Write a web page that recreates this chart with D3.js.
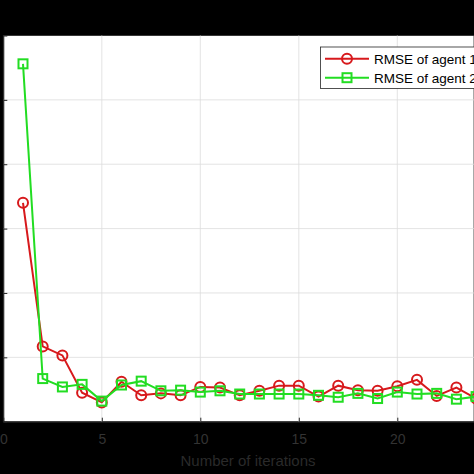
<!DOCTYPE html>
<html><head><meta charset="utf-8">
<script src="https://cdn.jsdelivr.net/npm/d3@7"></script>
<style>body{margin:0;background:#000}svg{display:block}</style>
</head><body>
<svg id="c" width="474" height="474"></svg>
<script>
// values
const iterations = d3.range(1, 25);
const agent1 = [3.40,1.17,1.03,0.45,0.30,0.62,0.41,0.44,0.41,0.54,0.53,0.41,0.48,0.56,0.56,0.39,0.56,0.49,0.48,0.55,0.65,0.40,0.53,0.36];
const agent2 = [5.56,0.67,0.54,0.58,0.32,0.57,0.63,0.48,0.49,0.46,0.48,0.43,0.43,0.43,0.43,0.41,0.38,0.44,0.36,0.46,0.43,0.44,0.35,0.39];
const xTicks = [0, 5, 10, 15, 20, 25];
const yTicks = [0, 1, 2, 3, 4, 5, 6];
const seriesNames = ["RMSE of agent 1", "RMSE of agent 2"];

const svg = d3.select("#c");
const plotLeft = 3.3, plotTop = 35.5, plotBottom = 421.7;
const x = d3.scaleLinear().domain([0, 25]).range([plotLeft, plotLeft + 25 * 19.7]);
const y = d3.scaleLinear().domain([0, 6]).range([plotBottom, plotTop]);

svg.append("rect").attr("x", plotLeft).attr("y", plotTop)
  .attr("width", 474 - plotLeft).attr("height", plotBottom - plotTop)
  .attr("fill", "#fff").attr("stroke", "#262626").attr("stroke-width", 0.8);

// grid
svg.append("g").selectAll("line").data(xTicks.slice(1)).join("line")
  .attr("x1", d => x(d)).attr("x2", d => x(d)).attr("y1", plotTop).attr("y2", plotBottom)
  .attr("stroke", "#dcdcdc").attr("stroke-width", 0.8);
svg.append("g").selectAll("line").data(yTicks.slice(1, -1)).join("line")
  .attr("x1", plotLeft).attr("x2", 474).attr("y1", d => y(d)).attr("y2", d => y(d))
  .attr("stroke", "#dcdcdc").attr("stroke-width", 0.8);

// axes
const xAxis = d3.axisBottom(x).tickValues(xTicks).tickSizeInner(-4).tickSizeOuter(0).tickPadding(12);
const gx = svg.append("g").attr("transform", `translate(0,${plotBottom})`).call(xAxis);
gx.select(".domain").attr("stroke", "#262626");
gx.selectAll(".tick line").attr("stroke", "#262626");
gx.selectAll("text").attr("fill", "#333").attr("font-family", "Arial, Liberation Sans, sans-serif").attr("font-size", 14);
const gy = svg.append("g").attr("transform", `translate(${plotLeft},0)`)
  .call(d3.axisLeft(y).tickValues(yTicks).tickSizeInner(-4).tickSizeOuter(0).tickFormat(""));
gy.select(".domain").attr("stroke", "#262626");
gy.selectAll(".tick line").attr("stroke", "#262626");

svg.append("text").attr("x", 248).attr("y", 466).attr("text-anchor", "middle")
  .attr("fill", "#2a2a2a").attr("font-family", "Arial, Liberation Sans, sans-serif").attr("font-size", 15)
  .text("Number of iterations");

const line = d3.line().x((d, i) => x(iterations[i])).y(d => y(d));
const marks = svg.append("g");
function drawSeries(data, color, marker) {
  marks.append("path").datum(data).attr("d", line).attr("fill", "none")
    .attr("stroke", color).attr("stroke-width", 2);
  const g = marks.append("g");
  if (marker === "circle") {
    g.selectAll("circle").data(data).join("circle")
      .attr("cx", (d, i) => x(iterations[i])).attr("cy", d => y(d)).attr("r", 5)
      .attr("fill", "none").attr("stroke", color).attr("stroke-width", 2);
  } else {
    g.selectAll("rect").data(data).join("rect")
      .attr("x", (d, i) => x(iterations[i]) - 4.5).attr("y", d => y(d) - 4.5)
      .attr("width", 9).attr("height", 9)
      .attr("fill", "none").attr("stroke", color).attr("stroke-width", 2);
  }
}
drawSeries(agent1, "#d7191c", "circle");
drawSeries(agent2, "#22dd22", "square");

// legend
const lg = svg.append("g");
lg.append("rect").attr("x", 320.5).attr("y", 47).attr("width", 170).attr("height", 41.5)
  .attr("fill", "#fff").attr("stroke", "#262626").attr("stroke-width", 0.8);
const colors = ["#d7191c", "#22dd22"];
seriesNames.forEach((n, i) => {
  const cy = 58.7 + i * 19;
  lg.append("line").attr("x1", 325).attr("x2", 369).attr("y1", cy).attr("y2", cy)
    .attr("stroke", colors[i]).attr("stroke-width", 2);
  if (i === 0) lg.append("circle").attr("cx", 347).attr("cy", cy).attr("r", 5)
    .attr("fill", "none").attr("stroke", colors[i]).attr("stroke-width", 2);
  else lg.append("rect").attr("x", 342.5).attr("y", cy - 4.5).attr("width", 9).attr("height", 9)
    .attr("fill", "none").attr("stroke", colors[i]).attr("stroke-width", 2);
  lg.append("text").attr("x", 374).attr("y", cy + 5).attr("fill", "#000")
    .attr("font-family", "Arial, Liberation Sans, sans-serif").attr("font-size", 13.5).text(n);
});
</script>
</body></html>
